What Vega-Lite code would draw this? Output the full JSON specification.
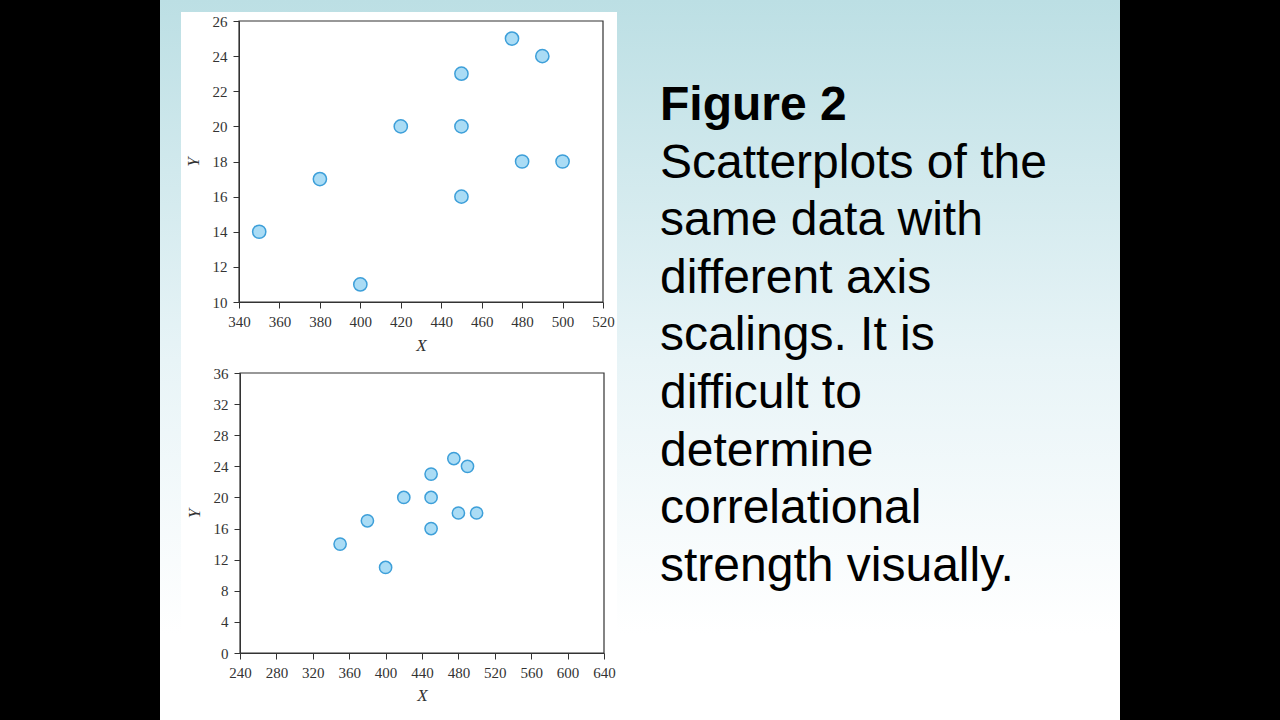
{
  "$schema": "https://vega.github.io/schema/vega-lite/v6.json",
  "width": 960,
  "height": 720,
  "autosize": {"type": "none"},
  "padding": {"left": 160, "right": 160, "top": 0, "bottom": 0},
  "background": "#000000",
  "view": {
    "stroke": null,
    "fill": {
      "gradient": "linear", "x1": 0, "y1": 0, "x2": 0, "y2": 1,
      "stops": [
        {"offset": 0, "color": "#bcdfe4"},
        {"offset": 0.5, "color": "#e8f4f7"},
        {"offset": 0.88, "color": "#ffffff"},
        {"offset": 1, "color": "#ffffff"}
      ]
    }
  },
  "config": {
    "axis": {
      "grid": false,
      "titleFont": "Liberation Serif", "titleFontStyle": "italic", "titleFontWeight": "normal",
      "titleFontSize": 17, "titleColor": "#333333", "titleBaseline": "middle",
      "labelFont": "Liberation Serif", "labelFontSize": 15, "labelColor": "#333333",
      "labelFlush": false, "labelOverlap": false,
      "tickSize": 6, "tickColor": "#333333", "domainColor": "#333333"
    }
  },
  "datasets": {
    "pts": [
      {"x": 350, "y": 14}, {"x": 380, "y": 17}, {"x": 400, "y": 11}, {"x": 420, "y": 20},
      {"x": 450, "y": 23}, {"x": 450, "y": 20}, {"x": 450, "y": 16}, {"x": 475, "y": 25},
      {"x": 490, "y": 24}, {"x": 480, "y": 18}, {"x": 500, "y": 18}
    ],
    "lines": [
      {"line": 0, "text": "Figure 2"},
      {"line": 1, "text": "Scatterplots of the"},
      {"line": 2, "text": "same data with"},
      {"line": 3, "text": "different axis"},
      {"line": 4, "text": "scalings. It is"},
      {"line": 5, "text": "difficult to"},
      {"line": 6, "text": "determine"},
      {"line": 7, "text": "correlational"},
      {"line": 8, "text": "strength visually."}
    ]
  },
  "layer": [
    {
      "data": {"values": [{}]},
      "mark": {"type": "rect", "fill": "#ffffff"},
      "encoding": {"x": {"value": 21}, "x2": {"value": 457}, "y": {"value": 12}, "y2": {"value": 720}}
    },
    {
      "layer": [
        {
          "data": {"values": [{}]},
          "mark": {"type": "rect", "fill": null, "stroke": "#333333", "strokeWidth": 1.2},
          "encoding": {
            "x": {"datum": 340, "type": "quantitative"},
            "x2": {"datum": 520},
            "y": {"datum": 10, "type": "quantitative"},
            "y2": {"datum": 26}
          }
        },
        {
          "data": {"name": "pts"},
          "mark": {"type": "circle", "size": 175, "fill": "#aadcf5", "fillOpacity": 1, "stroke": "#3d9fd9", "strokeWidth": 1.5},
          "encoding": {
            "x": {
              "field": "x", "type": "quantitative",
              "scale": {"domain": [340, 520], "range": [79, 443], "nice": false, "zero": false},
              "axis": {
                "orient": "bottom", "offset": -418, "zindex": 2,
                "values": [340, 360, 380, 400, 420, 440, 460, 480, 500, 520],
                "title": "X", "titleY": 43, "labelPadding": 6
              }
            },
            "y": {
              "field": "y", "type": "quantitative",
              "scale": {"domain": [10, 26], "range": [302, 21], "nice": false, "zero": false},
              "axis": {
                "orient": "left", "offset": -79, "zindex": 2,
                "values": [10, 12, 14, 16, 18, 20, 22, 24, 26],
                "title": "Y", "titleX": -46, "labelPadding": 6
              }
            }
          }
        }
      ]
    },
    {
      "layer": [
        {
          "data": {"values": [{}]},
          "mark": {"type": "rect", "fill": null, "stroke": "#333333", "strokeWidth": 1.2},
          "encoding": {
            "x": {"datum": 240, "type": "quantitative"},
            "x2": {"datum": 640},
            "y": {"datum": 0, "type": "quantitative"},
            "y2": {"datum": 36}
          }
        },
        {
          "data": {"name": "pts"},
          "mark": {"type": "circle", "size": 150, "fill": "#aadcf5", "fillOpacity": 1, "stroke": "#3d9fd9", "strokeWidth": 1.5},
          "encoding": {
            "x": {
              "field": "x", "type": "quantitative",
              "scale": {"domain": [240, 640], "range": [80, 444], "nice": false, "zero": false},
              "axis": {
                "orient": "bottom", "offset": -67, "zindex": 2,
                "values": [240, 280, 320, 360, 400, 440, 480, 520, 560, 600, 640],
                "title": "X", "titleY": 42, "labelPadding": 6
              }
            },
            "y": {
              "field": "y", "type": "quantitative",
              "scale": {"domain": [0, 36], "range": [653, 373], "nice": false, "zero": false},
              "axis": {
                "orient": "left", "offset": -80, "zindex": 2,
                "values": [0, 4, 8, 12, 16, 20, 24, 28, 32, 36],
                "title": "Y", "titleX": -46, "labelPadding": 6
              }
            }
          }
        }
      ]
    },
    {
      "data": {"name": "lines"},
      "layer": [
        {
          "transform": [{"filter": "datum.line == 0"}],
          "mark": {"type": "text", "align": "left", "baseline": "alphabetic", "font": "Liberation Sans", "fontSize": 48, "fontWeight": "bold", "color": "#000000"}
        },
        {
          "transform": [{"filter": "datum.line > 0"}],
          "mark": {"type": "text", "align": "left", "baseline": "alphabetic", "font": "Liberation Sans", "fontSize": 48, "fontWeight": "normal", "color": "#000000"}
        }
      ],
      "encoding": {
        "x": {"value": 500},
        "y": {"field": "line", "type": "quantitative", "scale": {"domain": [0, 8], "range": [120, 580.8], "nice": false, "zero": false}, "axis": null},
        "text": {"field": "text"}
      }
    }
  ],
  "resolve": {
    "scale": {"x": "independent", "y": "independent"},
    "axis": {"x": "independent", "y": "independent"}
  }
}
